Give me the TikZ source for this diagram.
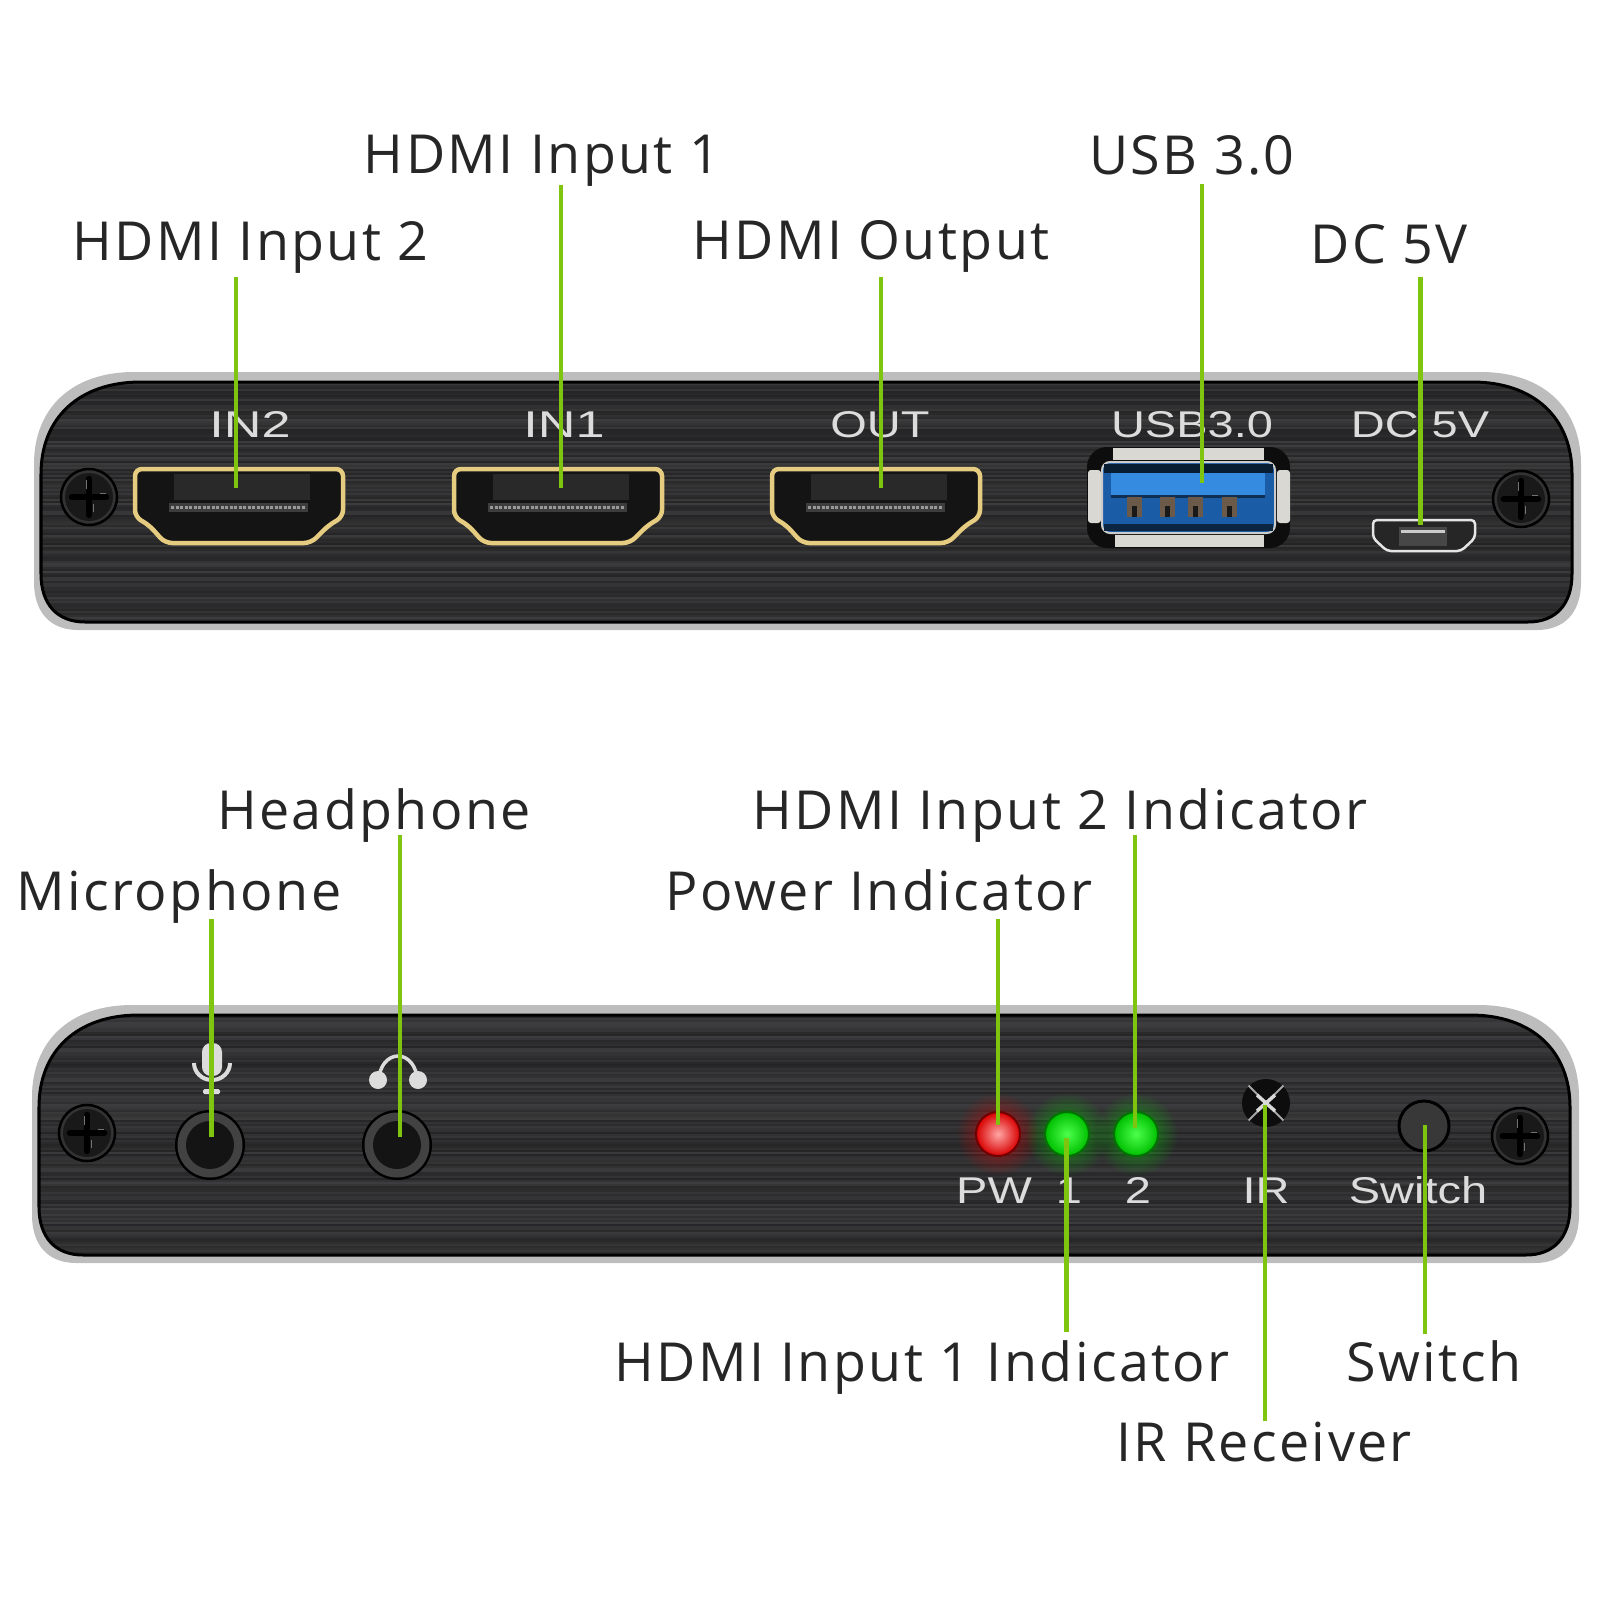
\documentclass[tikz,border=0pt]{standalone}
\usepackage{fontspec}
\setmainfont{Open Sans}
\newfontfamily\calloutfont[LetterSpace=4.5]{Open Sans}
\newfontfamily\silkfont[FakeStretch=1.26]{Liberation Sans}
\newfontfamily\silkwidefont[FakeStretch=1.4]{Liberation Sans}
\usetikzlibrary{fadings}

\definecolor{leadgreen}{HTML}{7FC50F}
\definecolor{plate}{HTML}{404042}
\definecolor{rim}{HTML}{BDBDBD}
\definecolor{silk}{HTML}{DCDCDC}
\definecolor{gold}{HTML}{E6CC80}
\definecolor{usbblue}{HTML}{1B5CA6}
\definecolor{usbtongue}{HTML}{348BE0}
\definecolor{steel}{HTML}{DAD8D2}
\definecolor{usbpin}{HTML}{6B5A4A}

\tikzfading[name=glowfade, inner color=transparent!35, outer color=transparent!100]

% outline of a plate, insets from the left, top, right and bottom edge
\newcommand{\plateoutline}[4]{
	(#1,#2+92) .. controls (#1,#2+36) and (#1+38,#2) .. (#1+100,#2)
	-- (1547-#3-100,#2) .. controls (1547-#3-38,#2) and (1547-#3,#2+36) .. (1547-#3,#2+92)
	-- (1547-#3,258-#4-48) .. controls (1547-#3,258-#4-18) and (1547-#3-16,258-#4) .. (1547-#3-44,258-#4)
	-- (#1+44,258-#4) .. controls (#1+16,258-#4) and (#1,258-#4-18) .. (#1,258-#4-48) -- cycle
}

\tikzset{
	lbl/.style={anchor=base, inner sep=0pt, text depth=0pt, text height=0.39cm, text=black!85,
		font=\calloutfont\fontsize{15.3}{18}\selectfont},
	silktxt/.style={anchor=base, inner sep=0pt, text=silk, font=\silkfont\fontsize{10.6}{12}\selectfont},
	silkwide/.style={silktxt, font=\silkwidefont\fontsize{10.6}{12}\selectfont},
	lead/.style={draw=leadgreen, line width=0.042cm},
	led/.style={circle, inner sep=0pt, minimum size=0.44cm, draw=#1!45!black, line width=0.02cm},
	panel/.pic={
		\fill[rim] \plateoutline{0}{0}{0}{0};
		\begin{scope}
			\path[clip] \plateoutline{7}{10}{9}{8};
			\fill[plate] (0,0) rectangle (1547,258);
			\foreach \row in {10,12,...,250} {
				\pgfmathsetmacro{\dk}{5+rnd*38}
				\pgfmathsetmacro{\ax}{rnd*1000}
				\pgfmathsetmacro{\lt}{rnd*12}
				\draw[black!\dk!plate, line width=0.012cm] (0,\row) -- (1547,\row);
				\draw[white!\lt!plate, line width=0.01cm] (\ax,\row+1) -- (\ax+400+rnd*400,\row+1);
			}
		\end{scope}
		\draw[black, line width=0.03cm] \plateoutline{7}{10}{9}{8};
	},
	screw/.pic={
		\fill[black!80] (0,0) circle (29);
		\draw[black, line width=0.025cm] (0,0) circle (28);
		\fill[black!90] (0,0) circle (24);
		\draw[black, line width=0.065cm, line cap=round] (0,-18) -- (0,18) (-17,0) -- (17,0);
		\draw[black!55, line width=0.01cm] (-3,-17) -- (-3,-8) (4,7) -- (4,15) (11,-4) -- (17,-4);
	},
	hdmi/.pic={
		\draw[gold, line width=0.045cm, fill=black!92, rounded corners=0.07cm] (-104,-37) -- (104,-37)
			-- (104,11) -- (90,19) -- (72,37) -- (-74,37) -- (-90,19) -- (-104,11) -- cycle;
		\fill[black!84] (-65,-32) rectangle (71,-6);
		\fill[black!76] (-70,-3) rectangle (69,6);
		\draw[black!40, line width=0.025cm, dash pattern=on 0.03cm off 0.015cm] (-68,1.5) -- (67,1.5);
	},
	jack/.pic={
		\fill[black] (0,0) circle (35);
		\fill[black!74] (0,0) circle (32.5);
		\fill[black!92] (0,0) circle (24);
	},
}

\begin{document}
\begin{tikzpicture}[x=0.01cm, y=-0.01cm]
	\pgfmathsetseed{4711}
	\useasboundingbox (0,0) rectangle (1600,1600);

	% rear plate
	\pic at (34,372) {panel};
	\pic at (89,497) {screw};
	\pic at (1521,499) {screw};
	\pic at (239,506) {hdmi};
	\pic at (558,506) {hdmi};
	\pic at (876,506) {hdmi};

	\node[silkwide] (in2txt) at (250,437) {IN2};
	\node[silkwide] (in1txt) at (564,437) {IN1};
	\node[silktxt] (outtxt) at (880,437) {OUT};
	\node[silktxt] (usbtxt) at (1192,437) {USB3.0};
	\node[silktxt] (dctxt) at (1420,437) {DC 5V};

	% usb socket
	\fill[black!95, rounded corners=0.2cm] (1087,447) rectangle (1290,548);
	\fill[steel] (1113,448) rectangle (1264,460);
	\fill[steel] (1115,535) rectangle (1264,547);
	\fill[steel, rounded corners=0.03cm] (1088,470) rectangle (1101,523);
	\fill[steel, rounded corners=0.03cm] (1277,470) rectangle (1290,523);
	\draw[white!80!black, line width=0.02cm, fill=usbblue, rounded corners=0.08cm] (1102,462) rectangle (1275,533);
	\fill[black!70!usbblue] (1104,464) rectangle (1273,473);
	\fill[usbtongue] (1111,473) rectangle (1265,497);
	\fill[black!50!usbblue] (1111,495) rectangle (1265,498);
	\fill[black!60!usbblue] (1104,524) rectangle (1273,531);
	\foreach \px in {1127,1160,1188,1222} {
		\fill[usbpin] (\px,497) rectangle (\px+15,517);
		\fill[black!90] (\px+5,506) rectangle (\px+10,517);
	}

	% micro usb
	\draw[white!90!black, line width=0.025cm, fill=black!85, rounded corners=0.04cm] (1373,520) -- (1475,520)
		-- (1475,538) -- (1461,551) -- (1387,551) -- (1373,538) -- cycle;
	\fill[black!72] (1399,527) rectangle (1447,546);
	\fill[black!20] (1401,530) rectangle (1445,533);

	% front plate
	\pic at (32,1005) {panel};
	\pic at (87,1133) {screw};
	\pic at (1520,1136) {screw};
	\pic at (210,1145) {jack};
	\pic at (397,1145) {jack};

	% microphone mark
	\fill[silk, rounded corners=0.09cm] (202,1043) rectangle (222,1076);
	\draw[silk, line width=0.04cm] (194,1063) arc[start angle=180, end angle=360, x radius=18, y radius=-17];
	\draw[silk, line width=0.035cm] (212,1080) -- (212,1090);
	\fill[silk, rounded corners=0.015cm] (203,1089) rectangle (220,1094);

	% headphone mark
	\draw[silk, line width=0.035cm] (379,1080) arc[start angle=180, end angle=360, x radius=19, y radius=24];
	\fill[silk] (378,1080) circle (9) (418,1080) circle (9);

	\fill[red!90!black, path fading=glowfade] (998,1134) circle (42);
	\fill[green!80!black, path fading=glowfade] (1067,1134) circle (42);
	\fill[green!80!black, path fading=glowfade] (1136,1134) circle (42);
	\node[led=red, inner color=red!35!white, outer color=red!85!black] (pw) at (998,1134) {};
	\node[led=green, inner color=green!70!white, outer color=green!75!black] (one) at (1067,1134) {};
	\node[led=green, inner color=green!70!white, outer color=green!75!black] (two) at (1136,1134) {};

	\node[circle, fill=black!95, inner sep=0pt, minimum size=0.48cm] (ir) at (1266,1103) {};
	\draw[black!35, line width=0.02cm] (ir.north west) -- (ir.south east) (ir.north east) -- (ir.south west);
	\draw[white!85!black, line width=0.035cm] (1257,1095) -- (1275,1111) (1275,1095) -- (1257,1111);
	\node[circle, draw=black, line width=0.03cm, fill=black!78, inner sep=0pt, minimum size=0.5cm] (sw) at (1424,1126) {};

	\node[silktxt] (pwtxt) at (994,1203) {PW};
	\node[silktxt] (onetxt) at (1069,1203) {1};
	\node[silktxt] (twotxt) at (1138,1203) {2};
	\node[silktxt] (irtxt) at (1266,1203) {IR};
	\node[silktxt] (swtxt) at (1418,1203) {Switch};

	% callouts
	\node[lbl, outer ysep=0.105cm] (in1lbl) at (542,174) {HDMI Input 1};
	\node[lbl, outer ysep=0.16cm] (in2lbl) at (250.5,261) {HDMI Input 2};
	\node[lbl, outer ysep=0.175cm] (outlbl) at (871,259) {HDMI Output};
	\node[lbl, outer ysep=0.09cm] (usblbl) at (1192,175) {USB 3.0};
	\node[lbl, outer ysep=0.125cm] (dclbl) at (1389,264) {DC 5V};
	\node[lbl, outer ysep=0.06cm] (hplbl) at (374,829) {Headphone};
	\node[lbl, outer ysep=0.06cm] (i2lbl) at (1060,829) {HDMI Input 2 Indicator};
	\node[lbl, outer ysep=0.09cm] (miclbl) at (179,910) {Microphone};
	\node[lbl, outer ysep=0.09cm] (pwlbl) at (879,910) {Power Indicator};
	\node[lbl, outer ysep=0.1cm] (i1lbl) at (922,1381) {HDMI Input 1 Indicator};
	\node[lbl, outer ysep=0.08cm] (swlbl) at (1434,1381) {Switch};
	\node[lbl] (irlbl) at (1264,1461) {IR Receiver};

	\coordinate (in1tip) at (561,488);
	\coordinate (in2tip) at (236,488);
	\coordinate (outtip) at (881,488);
	\coordinate (usbtip) at (1202,483);
	\coordinate (dctip) at (1420.5,525);
	\coordinate (hptip) at (400,1137);
	\coordinate (i2tip) at (1135,1128);
	\coordinate (mictip) at (211.5,1137);
	\coordinate (pwtip) at (998,1125);
	\coordinate (i1tip) at (1066.5,1138);
	\coordinate (swtip) at (1425,1125);
	\coordinate (irtip) at (1265,1105);

	\draw[lead] (in1lbl.south -| in1tip) -- (in1tip);
	\draw[lead] (in2lbl.south -| in2tip) -- (in2tip);
	\draw[lead] (outlbl.south -| outtip) -- (outtip);
	\draw[lead] (usblbl.south -| usbtip) -- (usbtip);
	\draw[lead] (dclbl.south -| dctip) -- (dctip);
	\draw[lead] (hplbl.south -| hptip) -- (hptip);
	\draw[lead] (i2lbl.south -| i2tip) -- (i2tip);
	\draw[lead] (miclbl.south -| mictip) -- (mictip);
	\draw[lead] (pwlbl.south -| pwtip) -- (pwtip);
	\draw[lead] (i1lbl.north -| i1tip) -- (i1tip);
	\draw[lead] (swlbl.north -| swtip) -- (swtip);
	\draw[lead] (irlbl.north -| irtip) -- (irtip);
\end{tikzpicture}
\end{document}
